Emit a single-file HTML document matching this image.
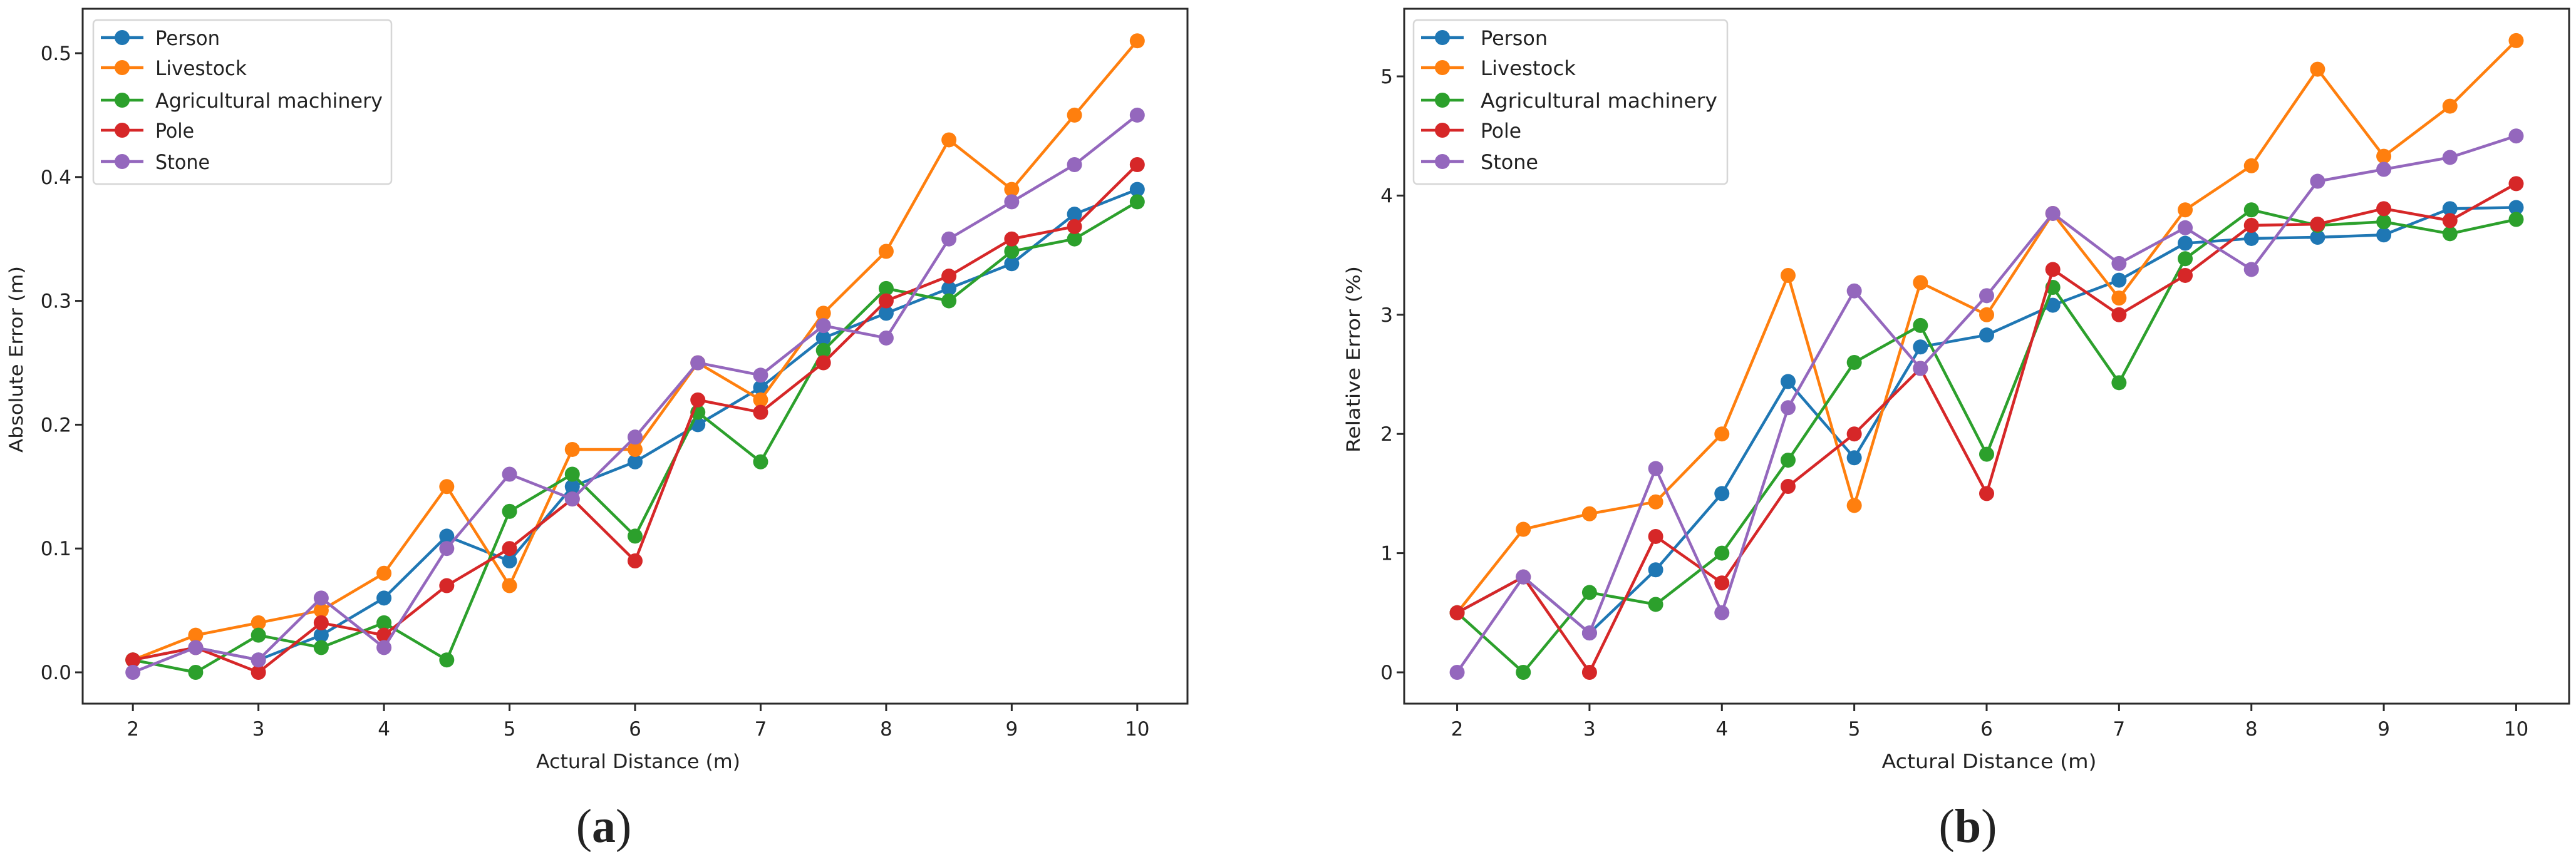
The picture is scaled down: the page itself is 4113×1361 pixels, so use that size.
<!DOCTYPE html>
<html><head><meta charset="utf-8"><style>
html,body{margin:0;padding:0;background:#fff;}
svg{display:block;}
text{font-family:"DejaVu Sans","Liberation Sans",sans-serif;fill:#222;}
</style></head><body>
<svg id="fig" width="4113" height="1361" viewBox="0 0 4113 1361" xmlns="http://www.w3.org/2000/svg">
<rect x="0" y="0" width="4113" height="1361" fill="#fff"/>
<g id="chartA"></g>
<g id="chartB"></g>
<text x="964" y="1345" text-anchor="middle" style="font-family:'Liberation Serif',serif;font-size:76px;">(<tspan font-weight="bold">a</tspan>)</text>
<text x="3142" y="1345" text-anchor="middle" style="font-family:'Liberation Serif',serif;font-size:76px;">(<tspan font-weight="bold">b</tspan>)</text>
</svg>
<script>
const distances = [2,2.5,3,3.5,4,4.5,5,5.5,6,6.5,7,7.5,8,8.5,9,9.5,10];
const seriesNames = ["Person","Livestock","Agricultural machinery","Pole","Stone"];
const seriesColors = ["#1f77b4","#ff7f0e","#2ca02c","#d62728","#9467bd"];
const xTicks = [2,3,4,5,6,7,8,9,10];

const absPerson    = [0.01,0.02,0.01,0.03,0.06,0.11,0.09,0.15,0.17,0.20,0.23,0.27,0.29,0.31,0.33,0.37,0.39];
const absLivestock = [0.01,0.03,0.04,0.05,0.08,0.15,0.07,0.18,0.18,0.25,0.22,0.29,0.34,0.43,0.39,0.45,0.51];
const absAgri      = [0.01,0.00,0.03,0.02,0.04,0.01,0.13,0.16,0.11,0.21,0.17,0.26,0.31,0.30,0.34,0.35,0.38];
const absPole      = [0.01,0.02,0.00,0.04,0.03,0.07,0.10,0.14,0.09,0.22,0.21,0.25,0.30,0.32,0.35,0.36,0.41];
const absStone     = [0.00,0.02,0.01,0.06,0.02,0.10,0.16,0.14,0.19,0.25,0.24,0.28,0.27,0.35,0.38,0.41,0.45];
const absTicks = [0,0.1,0.2,0.3,0.4,0.5];
const absTickLabels = ["0.0","0.1","0.2","0.3","0.4","0.5"];

const relPerson    = [0.5,0.8,0.33,0.86,1.5,2.44,1.8,2.73,2.83,3.08,3.29,3.6,3.64,3.65,3.67,3.89,3.9];
const relLivestock = [0.5,1.2,1.33,1.43,2.0,3.33,1.4,3.27,3.0,3.85,3.14,3.88,4.25,5.06,4.33,4.75,5.3];
const relAgri      = [0.5,0.0,0.67,0.57,1.0,1.78,2.6,2.91,1.83,3.23,2.43,3.47,3.88,3.75,3.78,3.68,3.8];
const relPole      = [0.5,0.8,0.0,1.14,0.75,1.56,2.0,2.55,1.5,3.38,3.0,3.33,3.75,3.76,3.89,3.79,4.1];
const relStone     = [0.0,0.8,0.33,1.71,0.5,2.22,3.2,2.55,3.16,3.85,3.43,3.73,3.38,4.12,4.22,4.32,4.5];
const relTicks = [0,1,2,3,4,5];
const relTickLabels = ["0","1","2","3","4","5"];

const NS = "http://www.w3.org/2000/svg";
function mk(tag, attrs, parent){
  const e = document.createElementNS(NS, tag);
  for (const k in attrs) e.setAttribute(k, attrs[k]);
  parent.appendChild(e);
  return e;
}

function drawChart(g, cfg){
  const L=cfg.left, R=cfg.right, T=14, B=1124;
  const xMin=2-0.4, xMax=10+0.4;
  const sx = v => L + (v - xMin) / (xMax - xMin) * (R - L);
  const sy = v => cfg.y0 - v * cfg.yPer;

  // series
  cfg.series.forEach((vals, si) => {
    const sg = mk("g", {}, g);
    
    
    const pts = vals.map((v,i)=> sx(distances[i]).toFixed(1)+","+sy(v).toFixed(1)).join(" ");
    const pl = mk("polyline", {points:pts, fill:"none", stroke:seriesColors[si], "stroke-width":4.5, "stroke-linejoin":"round"}, sg);
    
    
    vals.forEach((v,i)=>{
      const c = mk("circle", {cx:sx(distances[i]), cy:sy(v), r:12, fill:seriesColors[si]}, sg);
      
      
    });
  });

  // axes frame
  const fr = mk("rect", {x:L, y:T, width:R-L, height:B-T, fill:"none", stroke:"#2a2a2a", "stroke-width":3}, g);
  
  

  // x ticks
  xTicks.forEach(t=>{
    const x = sx(t);
    mk("line", {x1:x, y1:B, x2:x, y2:B+12, stroke:"#2a2a2a", "stroke-width":3}, g);
    const tx = mk("text", {x:x, y:1175, "text-anchor":"middle", "font-size":31}, g);
    tx.textContent = String(t);
    
    
  });
  // y ticks
  cfg.yTicks.forEach((t,i)=>{
    const y = sy(t);
    mk("line", {x1:L-12, y1:y, x2:L, y2:y, stroke:"#2a2a2a", "stroke-width":3}, g);
    const tx = mk("text", {x:L-18, y:y+11, "text-anchor":"end", "font-size":31}, g);
    tx.textContent = cfg.yTickLabels[i];
    
    
  });

  // axis titles
  const xl = mk("text", {x:cfg.xLabelX, y:1227, "text-anchor":"middle", "font-size":31, textLength:cfg.xLabelW, lengthAdjust:"spacingAndGlyphs"}, g);
  xl.textContent = "Actural Distance (m)";
  
  
  const yl = mk("text", {x:0, y:0, "text-anchor":"middle", "font-size":29, textLength:298, lengthAdjust:"spacingAndGlyphs", transform:"translate("+(cfg.yLabelX)+",574) rotate(-90)"}, g);
  yl.textContent = cfg.yTitle;
  
  

  // legend
  const lg = mk("g", {}, g);
  
  
  mk("rect", {x:cfg.legX, y:32, width:cfg.legW, height:262, rx:6, fill:"#fff", "fill-opacity":0.8, stroke:"#d6d6d6", "stroke-width":2.5}, lg);
  const rows = [60,108,160,208,258];
  seriesNames.forEach((n,i)=>{
    const eg = mk("g", {}, lg);
    
    
    const hx1 = cfg.legX+12, hx2 = cfg.legX+80;
    mk("line", {x1:hx1, y1:rows[i], x2:hx2, y2:rows[i], stroke:seriesColors[i], "stroke-width":4.5}, eg);
    mk("circle", {cx:(hx1+hx2)/2, cy:rows[i], r:12, fill:seriesColors[i]}, eg);
    const t = mk("text", {x:cfg.legX+cfg.textOff, y:rows[i]+12, "font-size":32, textLength:cfg.nameW[i], lengthAdjust:"spacingAndGlyphs"}, eg);
    t.textContent = n;
  });
}

drawChart(document.getElementById("chartA"), {
  left:132, right:1896, y0:1074, yPer:1978,
  series:[absPerson,absLivestock,absAgri,absPole,absStone],
  yTicks:absTicks, yTickLabels:absTickLabels,
  yTitle:"Absolute Error (m)", yLabelX:36,
  xLabelX:1019, xLabelW:326,
  legX:149, legW:476, textOff:99, nameW:[103,146,363,62,87]
});
drawChart(document.getElementById("chartB"), {
  left:2242, right:4102, y0:1074, yPer:190.4,
  series:[relPerson,relLivestock,relAgri,relPole,relStone],
  yTicks:relTicks, yTickLabels:relTickLabels,
  yTitle:"Relative Error (%)", yLabelX:2171,
  xLabelX:3176, xLabelW:343,
  legX:2257, legW:501, textOff:107, nameW:[107,152,378,65,92]
});
</script>
</body></html>
